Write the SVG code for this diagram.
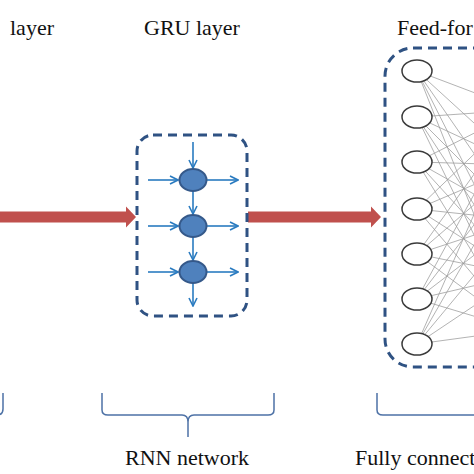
<svg xmlns="http://www.w3.org/2000/svg" width="474" height="474" viewBox="0 0 474 474">
<defs>
<style>
.lbl{font-family:"Liberation Serif","Times New Roman",serif;font-size:22px;fill:#111;}
.dash{fill:none;stroke:#2f5283;stroke-width:3;stroke-dasharray:9,6;}
.blue{stroke:#2a7bc0;stroke-width:1.6;fill:none;}
.gnode{fill:#4f81bd;stroke:#35598a;stroke-width:2;}
.fnode{fill:#fff;stroke:#3a3a3a;stroke-width:1.5;}
.fc{stroke:#9a9a9a;stroke-width:0.75;}
.brace{fill:none;stroke:#4e72a6;stroke-width:1.5;}
.red{fill:#c0504d;}
</style>
<marker id="ah" markerWidth="10" markerHeight="10" refX="9" refY="5" orient="auto" markerUnits="userSpaceOnUse">
<path d="M1,1 L9,5 L1,9" fill="none" stroke="#2a7bc0" stroke-width="1.6"/>
</marker>
</defs>
<rect width="474" height="474" fill="#fff"/>

<g id="labels">
<text class="lbl" x="10" y="35">layer</text>
<text class="lbl" x="192" y="35" text-anchor="middle">GRU layer</text>
<text class="lbl" x="397" y="35">Feed-for</text>
<text class="lbl" x="187" y="465" text-anchor="middle">RNN network</text>
<text class="lbl" x="355" y="465">Fully connect</text>
</g>

<g id="connectors">
<path class="red" d="M0,211.5 H126 V206.5 L136,217 L126,227.5 V222.5 H0 Z"/>
<path class="red" d="M248,211.5 H371 V206.5 L381,217 L371,227.5 V222.5 H248 Z"/>
<g id="gru-arrows">
<line class="blue" x1="193" y1="142" x2="193" y2="168" marker-end="url(#ah)"/>
<line class="blue" x1="193" y1="191" x2="193" y2="214" marker-end="url(#ah)"/>
<line class="blue" x1="193" y1="237" x2="193" y2="260" marker-end="url(#ah)"/>
<line class="blue" x1="193" y1="283" x2="193" y2="306" marker-end="url(#ah)"/>
<line class="blue" x1="148" y1="180" x2="178" y2="180" marker-end="url(#ah)"/>
<line class="blue" x1="148" y1="226" x2="178" y2="226" marker-end="url(#ah)"/>
<line class="blue" x1="148" y1="272" x2="178" y2="272" marker-end="url(#ah)"/>
<line class="blue" x1="207" y1="180" x2="238" y2="180" marker-end="url(#ah)"/>
<line class="blue" x1="207" y1="226" x2="238" y2="226" marker-end="url(#ah)"/>
<line class="blue" x1="207" y1="272" x2="238" y2="272" marker-end="url(#ah)"/>
</g>
<g id="fc-lines">
<line class="fc" x1="417" y1="71" x2="520" y2="110"/><line class="fc" x1="417" y1="71" x2="520" y2="165"/><line class="fc" x1="417" y1="71" x2="520" y2="220"/><line class="fc" x1="417" y1="71" x2="520" y2="275"/><line class="fc" x1="417" y1="71" x2="520" y2="330"/>
<line class="fc" x1="417" y1="117" x2="520" y2="110"/><line class="fc" x1="417" y1="117" x2="520" y2="165"/><line class="fc" x1="417" y1="117" x2="520" y2="220"/><line class="fc" x1="417" y1="117" x2="520" y2="275"/><line class="fc" x1="417" y1="117" x2="520" y2="330"/>
<line class="fc" x1="417" y1="162" x2="520" y2="110"/><line class="fc" x1="417" y1="162" x2="520" y2="165"/><line class="fc" x1="417" y1="162" x2="520" y2="220"/><line class="fc" x1="417" y1="162" x2="520" y2="275"/><line class="fc" x1="417" y1="162" x2="520" y2="330"/>
<line class="fc" x1="417" y1="209" x2="520" y2="110"/><line class="fc" x1="417" y1="209" x2="520" y2="165"/><line class="fc" x1="417" y1="209" x2="520" y2="220"/><line class="fc" x1="417" y1="209" x2="520" y2="275"/><line class="fc" x1="417" y1="209" x2="520" y2="330"/>
<line class="fc" x1="417" y1="254" x2="520" y2="110"/><line class="fc" x1="417" y1="254" x2="520" y2="165"/><line class="fc" x1="417" y1="254" x2="520" y2="220"/><line class="fc" x1="417" y1="254" x2="520" y2="275"/><line class="fc" x1="417" y1="254" x2="520" y2="330"/>
<line class="fc" x1="417" y1="299" x2="520" y2="110"/><line class="fc" x1="417" y1="299" x2="520" y2="165"/><line class="fc" x1="417" y1="299" x2="520" y2="220"/><line class="fc" x1="417" y1="299" x2="520" y2="275"/><line class="fc" x1="417" y1="299" x2="520" y2="330"/>
<line class="fc" x1="417" y1="344" x2="520" y2="110"/><line class="fc" x1="417" y1="344" x2="520" y2="165"/><line class="fc" x1="417" y1="344" x2="520" y2="220"/><line class="fc" x1="417" y1="344" x2="520" y2="275"/><line class="fc" x1="417" y1="344" x2="520" y2="330"/>
</g>
</g>

<g id="gru-layer">
<rect class="dash" x="137" y="135" width="110" height="181" rx="16"/>
<ellipse class="gnode" cx="193" cy="180" rx="13.5" ry="11"/>
<ellipse class="gnode" cx="193" cy="226" rx="13.5" ry="11"/>
<ellipse class="gnode" cx="193" cy="272" rx="13.5" ry="11"/>
</g>

<g id="ff-layer">
<rect class="dash" x="385" y="48" width="140" height="319" rx="28"/>
<ellipse class="fnode" cx="417" cy="71" rx="15" ry="11"/>
<ellipse class="fnode" cx="417" cy="117" rx="15" ry="11"/>
<ellipse class="fnode" cx="417" cy="162" rx="15" ry="11"/>
<ellipse class="fnode" cx="417" cy="209" rx="15" ry="11"/>
<ellipse class="fnode" cx="417" cy="254" rx="15" ry="11"/>
<ellipse class="fnode" cx="417" cy="299" rx="15" ry="11"/>
<ellipse class="fnode" cx="417" cy="344" rx="15" ry="11"/>
</g>

<g id="braces">
<path class="brace" d="M3,393 V409 Q3,415 -3,415"/>
<path class="brace" d="M102,393 V410 Q102,415 108,415 H182 Q188,415 188,422 V437 M188,422 Q188,415 194,415 H268 Q274,415 274,410 V393"/>
<path class="brace" d="M377,393 V410 Q377,415 383,415 H480"/>
</g>
</svg>
